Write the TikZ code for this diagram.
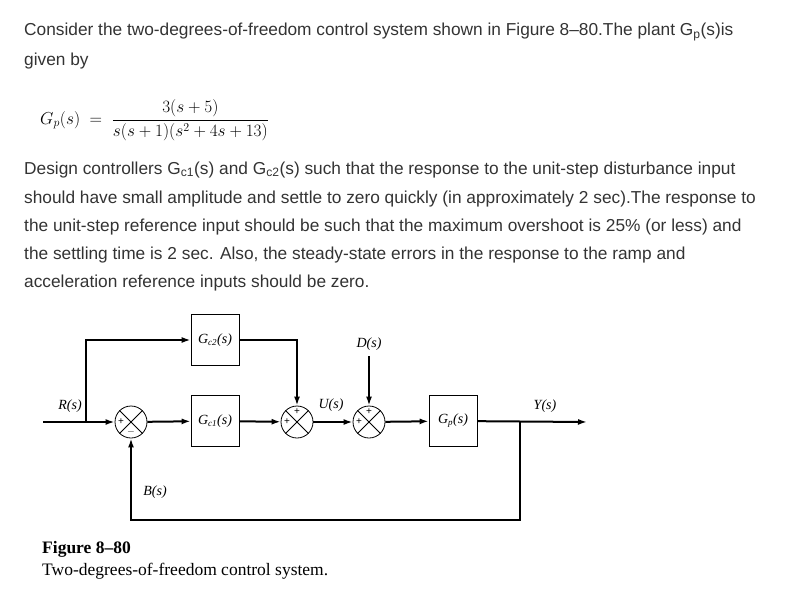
\documentclass[tikz,border=0pt]{standalone}
\usepackage{amsmath}
\usepackage{fontspec}
\setmainfont{Liberation Sans}
\newfontfamily\serif{Liberation Serif}
\usetikzlibrary{arrows.meta}
\begin{document}
\begin{tikzpicture}[x=1pt,y=-1pt,
  txt/.style={anchor=base west,inner sep=0,text=black!80,font=\fontsize{17.3}{20}\selectfont},
  blk/.style={draw,line width=0.7pt,minimum width=48,minimum height=51,inner sep=0,font=\serif\itshape\fontsize{14}{16}\selectfont},
  sumj/.style={draw,circle,line width=0.8pt,minimum size=32,inner sep=0},
  sig/.style={line width=2pt,-{Latex[length=9,width=6]}},
  wire/.style={line width=2pt},
  lab/.style={font=\serif\itshape\fontsize{14}{16}\selectfont,inner sep=0},
  pl/.style={font=\fontsize{10}{11}\selectfont,inner sep=0}]
\useasboundingbox (0,0) rectangle (790,594);
\node[txt] (t1) at (24,36) {Consider the two-degrees-of-freedom control system shown in Figure 8–80.The plant G\textsubscript{p}(s)is};
\node[txt] (t2) at (24,66) {given by};
\node[txt] (t3) at (24,174) {Design controllers G\textsubscript{c1}(s) and G\textsubscript{c2}(s) such that the response to the unit-step disturbance input};
\node[txt] (t4) at (24,203) {should have small amplitude and settle to zero quickly (in approximately 2 sec).The response to};
\node[txt] (t5) at (24,231) {the unit-step reference input should be such that the maximum overshoot is 25\% (or less) and};
\node[txt] (t6) at (24,259) {the settling time is 2 sec. Also, the steady-state errors in the response to the ramp and};
\node[txt] (t7) at (24,287) {acceleration reference inputs should be zero.};
\node[anchor=west,inner sep=0,font=\fontsize{18}{20}\selectfont] (eq) at (40,120)
  {$G_p(s)\;=\;\dfrac{3(s+5)}{s(s+1)(s^2+4s+13)}$};
% diagram
\node[sumj] (s1) at (131,422) {};
\node[sumj] (s2) at (297,422) {};
\node[sumj] (s3) at (369,422) {};
\foreach \s in {s1,s2,s3}{
  \draw[line width=0.8pt] (\s.45)--(\s.225) (\s.135)--(\s.315);}
\node[pl] at ([shift={(-10,0)}]s1.center) {+};
\node[pl] at ([shift={(0,10)}]s1.center) {$-$};
\node[pl] at ([shift={(-10,0)}]s2.center) {+};
\node[pl] at ([shift={(0,-10)}]s2.center) {+};
\node[pl] at ([shift={(-10,0)}]s3.center) {+};
\node[pl] at ([shift={(0,-10)}]s3.center) {+};
\node[blk] (gc2) at (215,340) {G\textsubscript{\fontsize{9}{10}\selectfont c2}(s)};
\node[blk] (gc1) at (215,421) {G\textsubscript{\fontsize{9}{10}\selectfont c1}(s)};
\node[blk] (gp) at (453,421) {G\textsubscript{\fontsize{9}{10}\selectfont p}(s)};
\coordinate (in) at (43,422);
\coordinate (br) at (86,422);
\coordinate (out) at (587,422);
\coordinate (fb) at (520,422);
\coordinate (dtop) at (369,356);
\draw[wire] (in)--(br);
\draw[sig] (br)--(s1);
\draw[sig] (br)|-(gc2);
\draw[sig] (gc2)-|(s2);
\draw[sig] (s1)--(gc1);
\draw[sig] (gc1)--(s2);
\draw[sig] (s2)--(s3);
\draw[sig] (s3)--(gp);
\draw[sig] (gp)--(out);
\draw[sig] (fb)--++(0,98)-|(s1);
\draw[sig] (dtop)--(s3);
\node[lab] (r) at (70,406) {R(s)};
\node[lab] (u) at (331,405) {U(s)};
\node[lab] (d) at (369,344) {D(s)};
\node[lab] (y) at (545,406) {Y(s)};
\node[lab] (b) at (155,492) {B(s)};
\node[anchor=base west,inner sep=0,font=\serif\bfseries\fontsize{17.5}{19}\selectfont] (c1) at (42,553) {Figure 8–80};
\node[anchor=base west,inner sep=0,font=\serif\fontsize{17.5}{19}\selectfont] (c2) at (42,575) {Two-degrees-of-freedom control system.};
\end{tikzpicture}
\end{document}
